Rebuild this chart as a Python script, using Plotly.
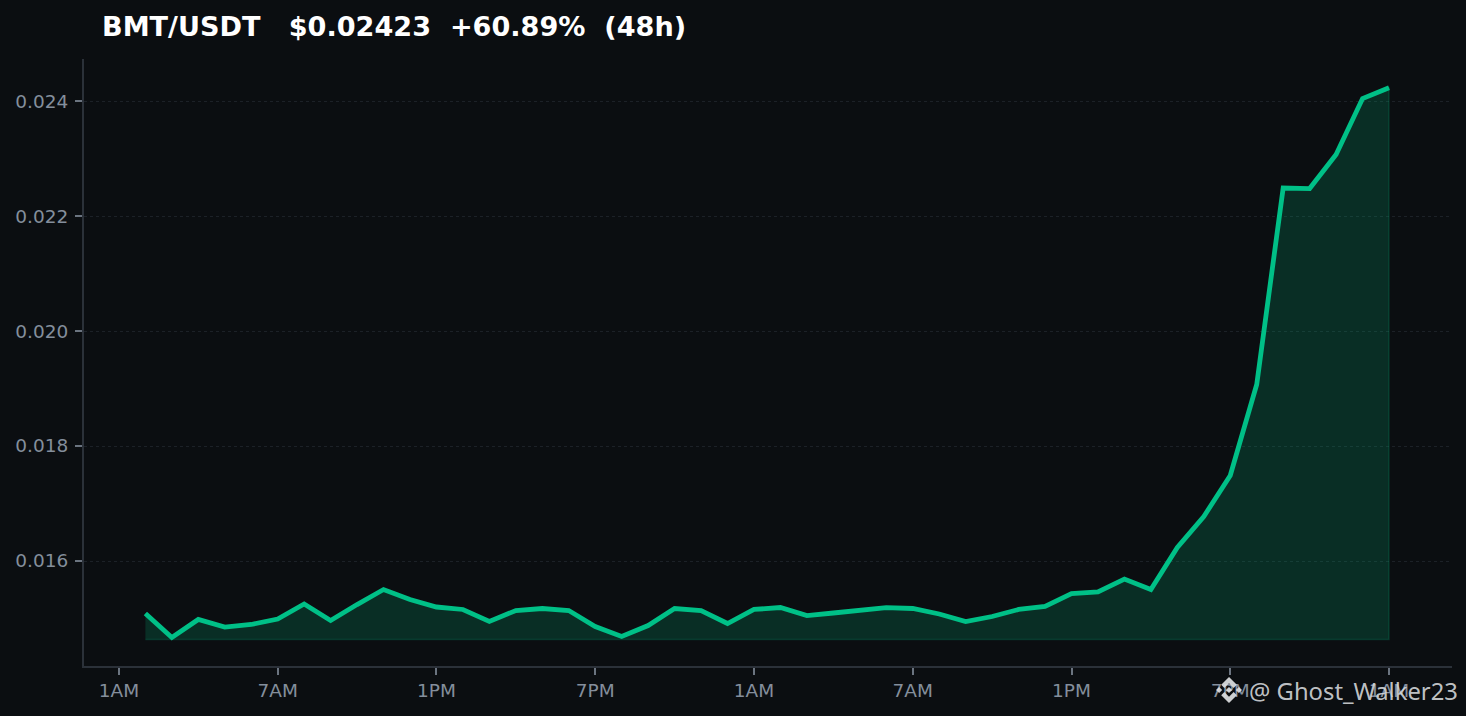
import plotly.graph_objects as go

W, H = 1466, 716
L, R, T, B = 84, 1452, 59, 666

hours = list(range(1, 49))
prices = [0.015087, 0.01467, 0.014983, 0.014852, 0.014896, 0.014991, 0.015252, 0.014965,
          0.015243, 0.015504, 0.01533, 0.0152, 0.015157, 0.014948, 0.015139, 0.015174,
          0.015139, 0.014861, 0.014687, 0.014878, 0.015174, 0.015139, 0.014913, 0.015157,
          0.015191, 0.015052, 0.015096, 0.015139, 0.015191, 0.015174, 0.015078, 0.014948,
          0.015035, 0.015157, 0.015209, 0.015435, 0.015461, 0.015687, 0.015504, 0.016235,
          0.016774, 0.017487, 0.01907, 0.022487, 0.022478, 0.02307, 0.024043, 0.02423]
baseline = 0.014635
tick_hours = [0, 6, 12, 18, 24, 30, 36, 42, 48]
tick_labels = ["1AM", "7AM", "1PM", "7PM", "1AM", "7AM", "1PM", "7PM", "1AM"]
y_ticks = [0.016, 0.018, 0.020, 0.022, 0.024]
y_labels = ["0.016", "0.018", "0.020", "0.022", "0.024"]
title_text = "BMT/USDT   $0.02423  +60.89%  (48h)"
watermark = "@ Ghost_Walker23"

BG = "#0b0e11"
GREEN = "#00c087"
AXIS = "#2b3139"
TICK = "#848e9c"

fig = go.Figure()
fig.add_trace(go.Scatter(
    x=hours + hours[::-1],
    y=prices + [baseline] * len(hours),
    mode="lines", fill="toself",
    fillcolor="rgba(0,192,135,0.18)",
    line=dict(color="rgba(0,192,135,0.18)", width=1.5),
    hoverinfo="skip", showlegend=False))
fig.add_trace(go.Scatter(
    x=hours, y=prices, mode="lines",
    line=dict(color=GREEN, width=4.8, shape="linear"),
    showlegend=False))


def poly(cx, cy, s, pts):
    cmds = [f"{(cx + s * a) / W:.5f} {1 - (cy + s * b) / H:.5f}" for a, b in pts]
    return "M " + " L ".join(cmds) + " Z"


ICON_CX, ICON_CY, ICON_S = 1229, 690, 13
ICON = "rgba(222,224,226,0.92)"
icon_parts = [
    [(-0.6, -0.4), (0, -1), (0.6, -0.4), (0.36, -0.16), (0, -0.52), (-0.36, -0.16)],
    [(-0.6, 0.4), (0, 1), (0.6, 0.4), (0.36, 0.16), (0, 0.52), (-0.36, 0.16)],
    [(-1, 0), (-0.76, -0.24), (-0.52, 0), (-0.76, 0.24)],
    [(1, 0), (0.76, -0.24), (0.52, 0), (0.76, 0.24)],
    [(-0.24, 0), (0, -0.24), (0.24, 0), (0, 0.24)],
]

fig.update_layout(
    width=W, height=H, paper_bgcolor=BG, plot_bgcolor=BG,
    margin=dict(l=0, r=0, t=0, b=0),
    font=dict(family="DejaVu Sans", color=TICK, size=18.5),
    xaxis=dict(
        domain=[L / W, R / W], range=[-1.32, 50.38], tickmode="array",
        tickvals=tick_hours, ticktext=tick_labels, ticks="outside", ticklen=7,
        tickwidth=1.5, tickcolor="#6b7480", showgrid=False, zeroline=False,
        showline=True, linecolor=AXIS, linewidth=2,
        tickfont=dict(size=18.5, color=TICK)),
    yaxis=dict(
        domain=[1 - B / H, 1 - T / H], range=[0.014174, 0.024731], tickmode="array",
        tickvals=y_ticks, ticktext=y_labels, ticks="outside", ticklen=7,
        tickwidth=1.5, tickcolor="#6b7480", showgrid=True, gridcolor="#1c2127",
        griddash="3px,3px", gridwidth=1, zeroline=False,
        showline=True, linecolor=AXIS, linewidth=2, ticklabelstandoff=3,
        tickfont=dict(size=18.5, color=TICK)),
    annotations=[
        dict(text=f"<b>{title_text}</b>", xref="paper", yref="paper",
             x=100 / W, y=1 - 26.5 / H, xanchor="left", yanchor="middle",
             showarrow=False, font=dict(family="DejaVu Sans", size=27.1, color="#ffffff")),
        dict(text=watermark, xref="paper", yref="paper",
             x=1460 / W, y=1 - 691 / H, xanchor="right", yanchor="middle",
             showarrow=False, font=dict(family="Noto Sans", size=23.8,
                                        color="rgba(214,217,220,0.9)")),
    ],
    shapes=[
        dict(type="path", xref="paper", yref="paper", layer="above", line=dict(width=0),
             fillcolor=ICON, path=poly(ICON_CX, ICON_CY, ICON_S, part))
        for part in icon_parts
    ],
)

fig.write_html("out.html", config={"displayModeBar": False},
               post_script="document.body.style.margin='0';document.body.style.background='#0b0e11';")
